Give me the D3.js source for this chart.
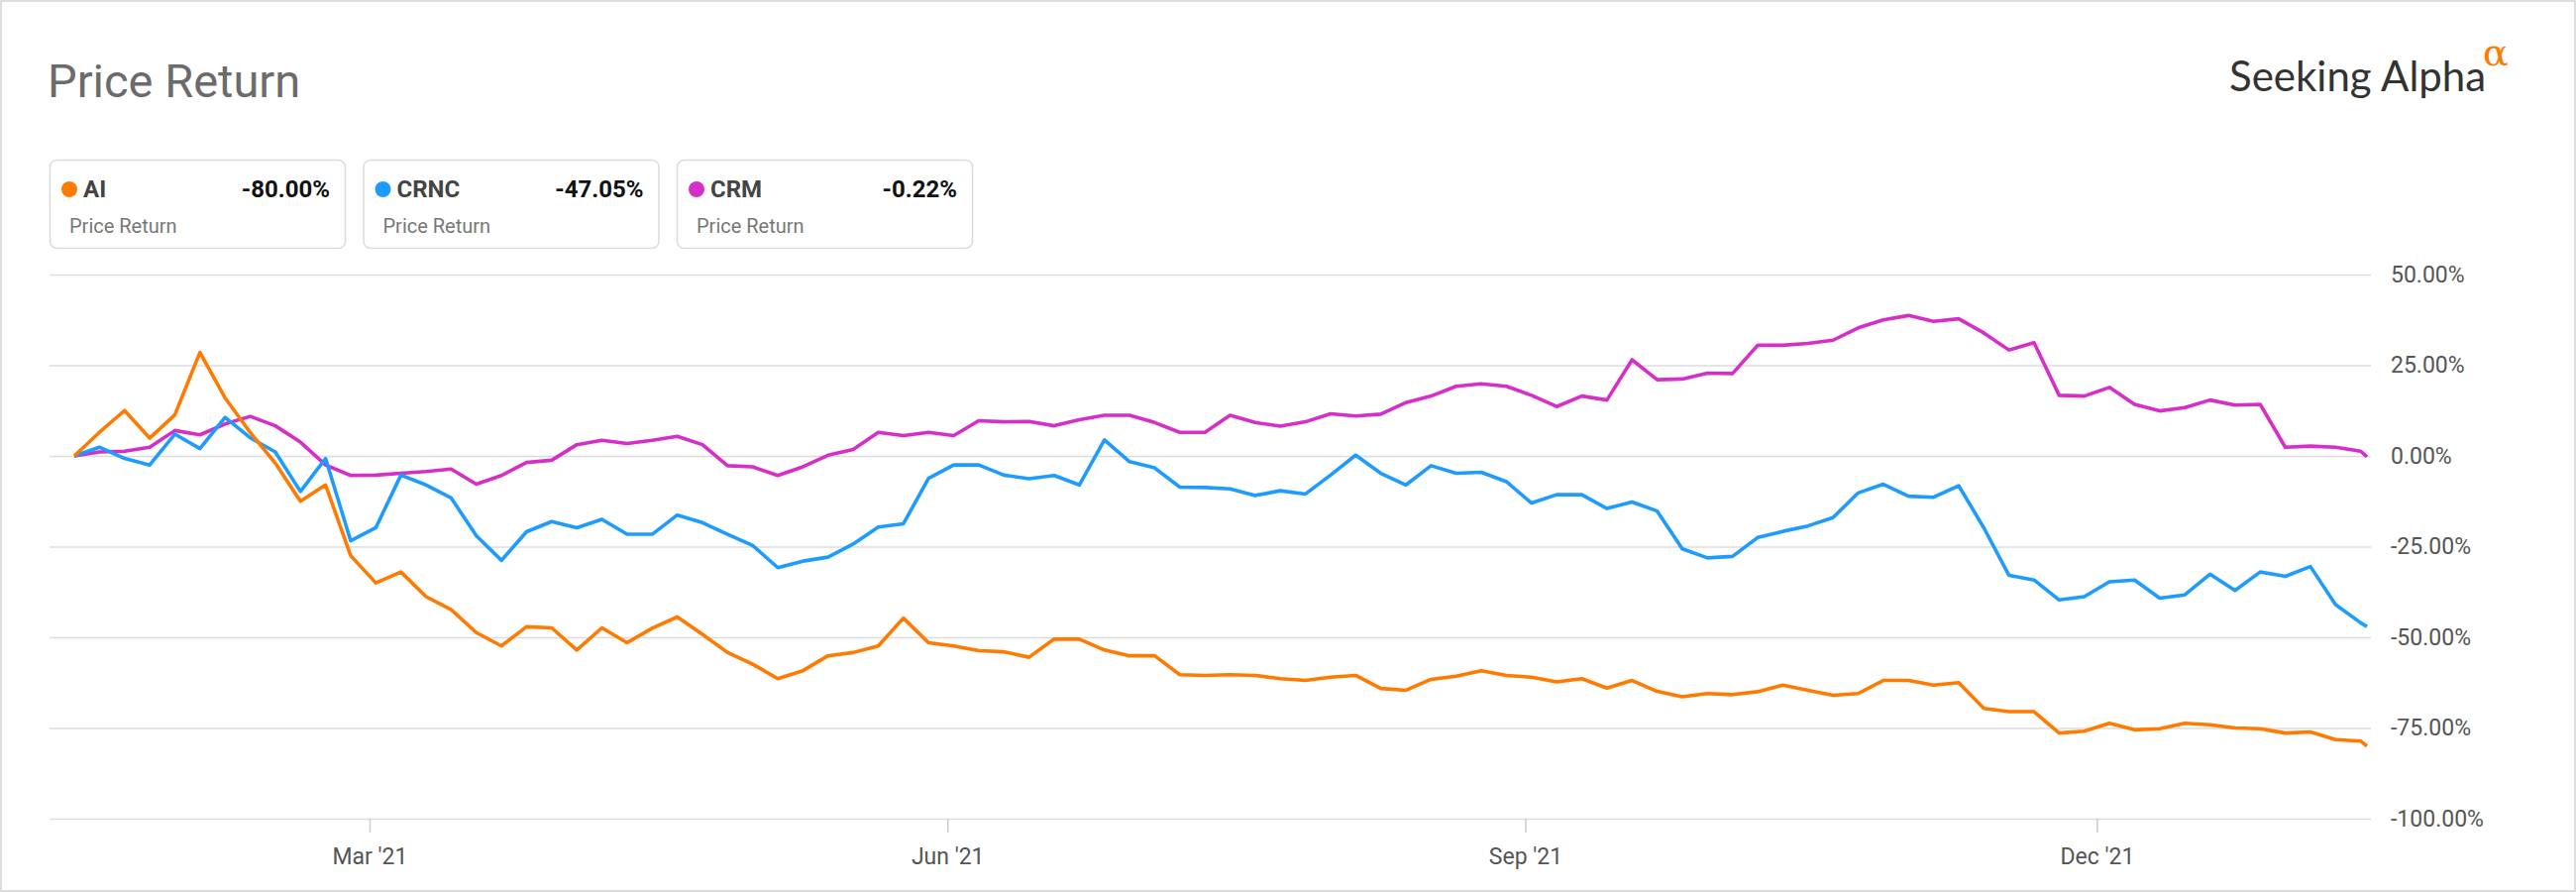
<!DOCTYPE html>
<html><head><meta charset="utf-8">
<script src="https://cdn.jsdelivr.net/npm/d3@7"></script>
<style>body{margin:0;background:#fff}svg{display:block}</style>
</head><body>
<svg id="c" width="2600" height="900"></svg>
<script>
const startDate = "2021-01-13";
const dayOffsets = d3.range(0, 365, 4).concat([365]);
const aiValues = [0,6.5,12.5,4.9,11.3,28.5,16,6.5,-2,-12.5,-8,-27.5,-35,-32,-38.8,-42.4,-48.7,-52.4,-47.1,-47.4,-53.5,-47.4,-51.5,-47.5,-44.4,-49.2,-54.2,-57.4,-61.4,-59.2,-55.1,-54.2,-52.4,-44.7,-51.5,-52.4,-53.7,-54,-55.5,-50.5,-50.5,-53.5,-55.1,-55.1,-60.3,-60.5,-60.3,-60.5,-61.4,-61.9,-61,-60.5,-64.1,-64.6,-61.6,-60.7,-59.2,-60.5,-61,-62.3,-61.4,-64,-61.9,-64.9,-66.4,-65.5,-65.8,-65,-63.2,-64.6,-66,-65.5,-61.9,-61.9,-63.2,-62.5,-69.6,-70.5,-70.5,-76.4,-75.9,-73.7,-75.5,-75.2,-73.7,-74.1,-75,-75.2,-76.4,-76.1,-78.2,-78.6,-80];
const crncValues = [0,2.4,-0.7,-2.5,6,2,10.6,5,1.1,-9.8,-0.7,-23.4,-19.8,-5.3,-8,-11.6,-22,-28.8,-20.9,-18.1,-19.8,-17.5,-21.6,-21.6,-16.3,-18.4,-21.6,-24.7,-30.8,-29,-27.9,-24.3,-19.6,-18.7,-6.2,-2.5,-2.5,-5.3,-6.3,-5.4,-8,4.4,-1.6,-3.3,-8.6,-8.7,-9.1,-10.9,-9.6,-10.5,-5.3,0.2,-4.8,-8,-2.7,-4.8,-4.5,-7.1,-13,-10.7,-10.7,-14.5,-12.7,-15.2,-25.6,-28.1,-27.7,-22.5,-20.8,-19.3,-17,-10.2,-7.8,-11.1,-11.4,-8.2,-19.8,-32.9,-34.2,-39.7,-38.8,-34.7,-34.2,-39.2,-38.3,-32.6,-37.1,-32,-33.2,-30.5,-41,-46,-47.05];
const crmValues = [0,1.1,1.3,2.4,7,5.8,8.8,10.9,8.3,3.8,-2.5,-5.4,-5.3,-4.8,-4.3,-3.6,-7.8,-5.4,-1.8,-1.2,3.1,4.3,3.4,4.3,5.4,3.1,-2.7,-3,-5.4,-3,0.2,1.8,6.5,5.6,6.5,5.6,9.7,9.4,9.5,8.3,10,11.2,11.2,9.2,6.5,6.5,11.2,9.2,8.2,9.4,11.6,11,11.5,14.7,16.5,19.2,19.9,19.2,16.7,13.6,16.5,15.4,26.5,21,21.2,22.8,22.7,30.5,30.5,31,31.9,35.3,37.5,38.7,37.1,37.8,33.9,29.2,31.2,16.7,16.5,18.9,14.2,12.4,13.3,15.4,14,14.2,2.4,2.7,2.4,1.3,-0.22];
const seriesNames = ["AI","CRNC","CRM"];
const seriesColors = ["#ff7a00","#1e9bff","#d62fc8"];
const legendValues = ["-80.00%","-47.05%","-0.22%"];
const yTicks = [50,25,0,-25,-50,-75,-100];
const xTickDates = ["2021-03-01","2021-06-01","2021-09-01","2021-12-01"];
const xTickLabels = ["Mar '21","Jun '21","Sep '21","Dec '21"];

const svg = d3.select("#c");
const font = "Roboto, 'Noto Sans', sans-serif";
svg.append("rect").attr("x",1).attr("y",1).attr("width",2598).attr("height",898).attr("fill","#fff").attr("stroke","#ddd").attr("stroke-width",2);

svg.append("text").attr("x",48).attr("y",98).attr("font-family",font).attr("font-size",47).attr("fill","#6b6b6b").text("Price Return");

svg.append("text").attr("x",2250).attr("y",92).attr("font-family","Lato, 'Open Sans', sans-serif").attr("font-size",42).attr("fill","#333").text("Seeking Alpha");
svg.append("text").attr("x",2506).attr("y",66).attr("font-family","'DejaVu Serif', serif").attr("font-size",38).attr("fill","#ff7a00").text("α");

const start = d3.timeParse("%Y-%m-%d")(startDate);
const dates = dayOffsets.map(d => d3.timeDay.offset(start, d));
const x = d3.scaleTime().domain([start, d3.timeDay.offset(start,365)]).range([75, 2389]);
const y = d3.scaleLinear().domain([-100, 50]).range([826, 277]);

seriesNames.forEach((n,i) => {
  const bx = 50 + i*316.5;
  const g = svg.append("g").attr("transform",`translate(${bx},161)`);
  g.append("rect").attr("x",0.5).attr("y",0.5).attr("width",298).attr("height",89).attr("rx",7).attr("fill","#fff").attr("stroke","#dcdcdc").attr("stroke-width",1.5);
  g.append("circle").attr("cx",20).attr("cy",30).attr("r",8).attr("fill",seriesColors[i]);
  g.append("text").attr("x",34).attr("y",38).attr("font-family",font).attr("font-weight",700).attr("font-size",24).attr("fill","#444").text(n);
  g.append("text").attr("x",283).attr("y",38).attr("text-anchor","end").attr("font-family",font).attr("font-weight",700).attr("font-size",24).attr("fill","#111").text(legendValues[i]);
  g.append("text").attr("x",20).attr("y",74).attr("font-family",font).attr("font-size",20).attr("fill","#777").text("Price Return");
});

const yAxis = d3.axisRight(y).tickValues(yTicks).tickSize(2343).tickFormat(d => d.toFixed(2)+"%");
const ga = svg.append("g").attr("transform","translate(50,0)").call(yAxis);
ga.select(".domain").remove();
ga.selectAll("line").attr("stroke","#dcdcdc").attr("stroke-width",1.5);
ga.selectAll("text").attr("x",2363).attr("font-family",font).attr("font-size",23).attr("fill","#555");

const parse = d3.timeParse("%Y-%m-%d");
const xAxis = d3.axisBottom(x).tickValues(xTickDates.map(parse)).tickSize(14).tickFormat((d,i)=>xTickLabels[i]);
const gx = svg.append("g").attr("transform","translate(0,826)").call(xAxis);
gx.select(".domain").remove();
gx.selectAll("line").attr("stroke","#ccc").attr("stroke-width",1.5);
gx.selectAll("text").attr("y",30).attr("font-family",font).attr("font-size",23).attr("fill","#555");

const line = d3.line().x((d,i)=>x(dates[i])).y(d=>y(d));
[aiValues, crncValues, crmValues].reverse().forEach((vals,k) => {
  const i = 2-k;
  svg.append("path").datum(vals).attr("d",line).attr("fill","none").attr("stroke",seriesColors[i]).attr("stroke-width",3.6).attr("stroke-linejoin","round");
});
</script>
</body></html>
